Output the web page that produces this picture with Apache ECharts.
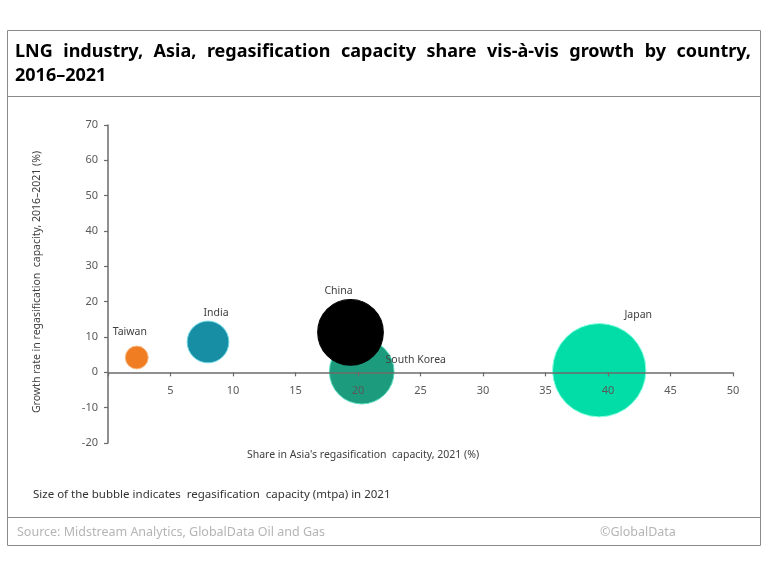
<!DOCTYPE html>
<html><head><meta charset="utf-8">
<script src="https://cdn.jsdelivr.net/npm/echarts@6/dist/echarts.min.js"></script>
<style>html,body{margin:0;padding:0;background:#fff}#c{width:768px;height:576px}</style>
</head><body><div id="c"></div>
<script>
// ---- data ----
const countries = ['Taiwan', 'India', 'South Korea', 'China', 'Japan'];
const share = [2.3, 8.0, 20.3, 19.4, 39.3];      // % share of Asia's regas capacity, 2021
const growth = [4.2, 8.6, 0.2, 11.3, 0.6];       // growth rate 2016-2021 (%)
const capacity = [12, 40, 96, 99, 200];          // regas capacity (mtpa) 2021
const xTicks = [5, 10, 15, 20, 25, 30, 35, 40, 45, 50];
const yTicks = [-20, -10, 0, 10, 20, 30, 40, 50, 60, 70];
const titleLine1 = 'LNG industry, Asia, regasification capacity share vis-à-vis growth by country,';
const titleLine2 = '2016–2021';

// ---- styles ----
const colors = ['#F07D22', '#178EA3', '#1C9B7D', '#000000', '#02DCA6'];
const borders = ['#F7B982', '#6FD8E6', '#5ADCC0', '#000000', '#8AFFE0'];
const labelOffsets = [[-7, -25], [8, -29], [54, -12], [-12, -41], [39, -55]];
const FONT = 'Noto Sans';
const TITLE_FONT = 'bold 18px "Noto Sans"';

// justified title words
const ctx = document.createElement('canvas').getContext('2d');
ctx.font = TITLE_FONT;
const words = titleLine1.split(' ');
const tLeft = 15, tRight = 751;
const wWidths = words.map(w => ctx.measureText(w).width);
const totalW = wWidths.reduce((a, b) => a + b, 0);
const gap = (tRight - tLeft - totalW) / (words.length - 1);
let cx = tLeft;
const titleGraphics = words.map((w, i) => {
  const g = { type: 'text', x: cx, y: 52, z: 100,
    style: { text: w, font: TITLE_FONT, fill: '#000', align: 'left', verticalAlign: 'middle' } };
  cx += wWidths[i] + gap;
  return g;
});
titleGraphics.push({ type: 'text', x: tLeft, y: 76, z: 100,
  style: { text: titleLine2, font: TITLE_FONT, fill: '#000', align: 'left', verticalAlign: 'middle' } });

const data = countries.map((c, i) => ({
  name: c,
  value: [share[i], growth[i], capacity[i]],
  itemStyle: { color: colors[i], borderColor: borders[i], borderWidth: 1, opacity: 1 },
  label: { offset: labelOffsets[i] }
}));

const chart = echarts.init(document.getElementById('c'), null, { renderer: 'canvas' });
const axisCol = '#6b6b6b';
chart.setOption({
  animation: false,
  grid: { left: 108, right: 35, top: 125, bottom: 133 },
  xAxis: {
    type: 'value', min: 0, max: 50, interval: 5, position: 'bottom', z: 5,
    axisLine: { show: true, onZero: true, lineStyle: { color: axisCol, width: 1.5, opacity: 0 } },
    axisTick: { show: true, length: 4, lineStyle: { color: axisCol, width: 1.2 } },
    axisLabel: {
      show: true, margin: -58, color: '#595959', fontSize: 11, fontFamily: FONT,
      formatter: v => (xTicks.indexOf(v) >= 0 ? String(v) : '')
    },
    splitLine: { show: false }
  },
  yAxis: {
    type: 'value', min: -20, max: 70, interval: 10,
    axisLine: { show: true, lineStyle: { color: axisCol, width: 1.5 } },
    axisTick: { show: true, length: 4, lineStyle: { color: axisCol, width: 1.2 } },
    axisLabel: {
      color: '#595959', fontSize: 11, fontFamily: FONT, margin: 10,
      formatter: v => (yTicks.indexOf(v) >= 0 ? String(v) : '')
    },
    splitLine: { show: false }
  },
  series: [{
    // zero baseline drawn beneath the bubbles
    type: 'scatter', z: 1, silent: true, data: [],
    markLine: {
      silent: true, symbol: 'none', label: { show: false },
      lineStyle: { color: axisCol, width: 1.5, type: 'solid' },
      data: [{ yAxis: 0 }]
    }
  }, {
    type: 'scatter',
    z: 2,
    symbol: 'circle',
    symbolSize: d => 6.6 * Math.sqrt(d[2]),
    label: {
      show: true, position: 'inside', formatter: p => p.name,
      color: '#404040', fontSize: 10.5, fontFamily: FONT
    },
    emphasis: { disabled: true },
    data: data
  }],
  graphic: [
    { type: 'rect', shape: { x: 7.5, y: 30.5, width: 753, height: 515 },
      style: { fill: 'none', stroke: '#8a8a8a', lineWidth: 1 }, z: 100 },
    { type: 'line', shape: { x1: 7.5, y1: 96.5, x2: 760.5, y2: 96.5 },
      style: { stroke: '#8a8a8a', lineWidth: 1 }, z: 100 },
    { type: 'line', shape: { x1: 7.5, y1: 517.5, x2: 760.5, y2: 517.5 },
      style: { stroke: '#8a8a8a', lineWidth: 1 }, z: 100 },
    ...titleGraphics,
    { type: 'text', x: 37, y: 282, rotation: Math.PI / 2, z: 100,
      style: { text: 'Growth rate in regasification  capacity, 2016–2021 (%)',
        font: '10.5px "Noto Sans"', fill: '#404040', align: 'center', verticalAlign: 'middle' } },
    { type: 'text', x: 363, y: 455, z: 100,
      style: { text: "Share in Asia's regasification  capacity, 2021 (%)",
        font: '10.5px "Noto Sans"', fill: '#404040', align: 'center', verticalAlign: 'middle' } },
    { type: 'text', x: 33, y: 495, z: 100,
      style: { text: 'Size of the bubble indicates  regasification  capacity (mtpa) in 2021',
        font: '11.5px "Noto Sans"', fill: '#333', align: 'left', verticalAlign: 'middle' } },
    { type: 'text', x: 17, y: 532, z: 100,
      style: { text: 'Source: Midstream Analytics, GlobalData Oil and Gas',
        font: '12.5px "Noto Sans"', fill: '#b5b5b5', align: 'left', verticalAlign: 'middle' } },
    { type: 'text', x: 600, y: 532, z: 100,
      style: { text: '©GlobalData',
        font: '12.5px "Noto Sans"', fill: '#b5b5b5', align: 'left', verticalAlign: 'middle' } }
  ]
});
</script>
</body></html>
